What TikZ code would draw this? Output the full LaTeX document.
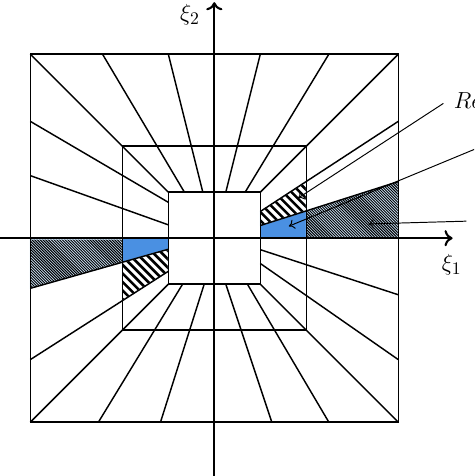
\documentclass[tikz,border=0pt]{standalone}
\usetikzlibrary{arrows.meta}
\definecolor{regblue}{RGB}{74,144,226}
\definecolor{paleblue}{RGB}{205,228,248}
\begin{document}
\begin{tikzpicture}[x=1cm,y=1cm,
  mesh/.style={line width=0.9pt},
  axisline/.style={line width=1.3pt,-{To[length=5pt,width=10pt,line width=1.3pt]}},
  pointer/.style={line width=0.6pt,-{To[length=3.5pt,width=6pt]}},
  bluereg/.style={fill=regblue},
  thickstripe/.style={line width=1.6pt},
  finestripe/.style={line width=0.6pt},
  edgeline/.style={draw=paleblue,line width=0.6pt},
  lbl/.style={font=\fontsize{15}{18}\selectfont,inner sep=0pt}]
\useasboundingbox (-4.659,-5.170) rectangle (5.646,5.178);
\clip (-4.659,-5.170) rectangle (5.646,5.178);

% coloured regions, right
\path[bluereg] (1,0) -- (1,0.275) -- (2,0.593) -- (2,0) -- cycle;
\begin{scope}
  \clip (1,0.275) -- (1,0.58) -- (2,1.233) -- (2,0.593) -- cycle;
  \fill[white] (1,0) rectangle (2,1.3);
  \foreach \c in {1.2,1.385,...,3.5} \draw[thickstripe] (\c-1.5,1.5) -- (\c+0.5,-0.5);
\end{scope}
\path[edgeline] (1,0.275) -- (1,0.58) -- (2,1.233) -- (2,0.593) -- cycle;
\begin{scope}
  \clip (2,0.02) -- (2,0.593) -- (4,1.23) -- (4,0.02) -- cycle;
  \fill[paleblue] (2,0) rectangle (4,1.3);
  \foreach \c in {1.95,2.01,...,5.35} \draw[finestripe] (\c-1.5,1.5) -- (\c+0.5,-0.5);
\end{scope}
\path[edgeline] (2,0.02) -- (2,0.593) -- (4,1.23) -- (4,0.02) -- cycle;

% coloured regions, left
\path[bluereg] (-1,0) -- (-1,-0.24) -- (-2,-0.523) -- (-2,0) -- cycle;
\begin{scope}
  \clip (-1,-0.24) -- (-1,-0.72) -- (-2,-1.36) -- (-2,-0.523) -- cycle;
  \fill[white] (-2,-1.4) rectangle (-1,0);
  \foreach \c in {-3.5,-3.315,...,-1.1} \draw[thickstripe] (\c-1.5,1.5) -- (\c+2.5,-2.5);
\end{scope}
\path[edgeline] (-1,-0.24) -- (-1,-0.72) -- (-2,-1.36) -- (-2,-0.523) -- cycle;
\begin{scope}
  \clip (-2,-0.02) -- (-2,-0.523) -- (-4,-1.09) -- (-4,-0.02) -- cycle;
  \fill[paleblue] (-4,-1.2) rectangle (-2,0);
  \foreach \c in {-5.2,-5.14,...,-1.9} \draw[finestripe] (\c-1.5,1.5) -- (\c+2.5,-2.5);
\end{scope}
\path[edgeline] (-2,-0.02) -- (-2,-0.523) -- (-4,-1.09) -- (-4,-0.02) -- cycle;

% squares
\draw[mesh] (-4,-4) rectangle (4,4);
\draw[mesh] (-2,-2) rectangle (2,2);
\draw[mesh] (-1,-1) rectangle (1,1);

% rays, top left
\draw[mesh] (-1,1) -- (-4,4);
\draw[mesh] (-0.65,1) -- (-2.43,4);
\draw[mesh] (-0.25,1) -- (-1.0,4);
\draw[mesh] (-1,0.78) -- (-4,2.54);
\draw[mesh] (-1,0.29) -- (-4,1.36);
% rays, top right
\draw[mesh] (1,1) -- (4,4);
\draw[mesh] (0.67,1) -- (2.49,4);
\draw[mesh] (0.25,1) -- (1.0,4);
\draw[mesh] (1,0.58) -- (4,2.54);
\draw[mesh] (1,0.275) -- (4,1.23);
% rays, bottom left
\draw[mesh] (-1,-1) -- (-4,-4);
\draw[mesh] (-0.69,-1) -- (-2.52,-4);
\draw[mesh] (-0.22,-1) -- (-1.17,-4);
\draw[mesh] (-1,-0.72) -- (-4,-2.64);
\draw[mesh] (-1,-0.24) -- (-4,-1.09);
% rays, bottom right
\draw[mesh] (1,-1) -- (4,-4);
\draw[mesh] (0.72,-1) -- (2.49,-4);
\draw[mesh] (0.25,-1) -- (1.25,-4);
\draw[mesh] (1,-0.55) -- (4,-2.64);
\draw[mesh] (1,-0.25) -- (4,-1.23);

% axes
\coordinate (xs) at (-4.66,0);
\coordinate (xe) at (5.18,0);
\coordinate (ys) at (0,-5.17);
\coordinate (ye) at (0,5.13);
\draw[axisline] (xs) -- (xe);
\draw[axisline] (ys) -- (ye);
\node[lbl] (xi1) at (5.16,-0.58) {$\xi_1$};
\node[lbl] (xi2) at (-0.53,4.85) {$\xi_2$};

% labels with pointers
\node[lbl,anchor=west] (rlab) at (5.2,3.0) {$Re$};
\coordinate (r0) at (4.98,2.93);
\coordinate (r1) at (1.82,0.87);
\draw[pointer] (r0) -- (r1);
\coordinate (b0) at (5.70,1.95);
\coordinate (b1) at (1.62,0.26);
\draw[pointer] (b0) -- (b1);
\coordinate (d0) at (5.48,0.37);
\coordinate (d1) at (3.35,0.31);
\draw[pointer] (d0) -- (d1);
\end{tikzpicture}
\end{document}
